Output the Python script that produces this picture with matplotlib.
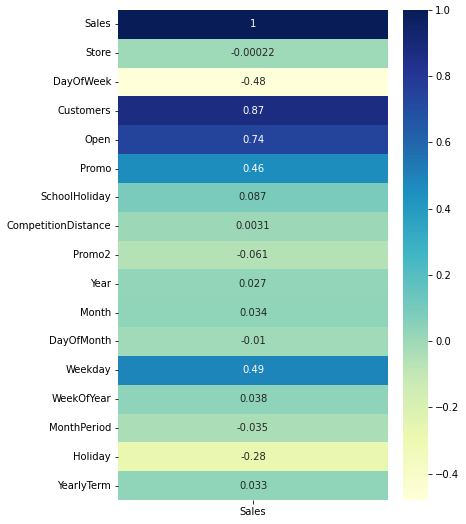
import matplotlib
matplotlib.use("Agg")
import matplotlib.pyplot as plt
import seaborn as sns
import pandas as pd
import numpy as np

features = ["Sales","Store","DayOfWeek","Customers","Open","Promo","SchoolHoliday",
            "CompetitionDistance","Promo2","Year","Month","DayOfMonth","Weekday",
            "WeekOfYear","MonthPeriod","Holiday","YearlyTerm"]
sales_corr = [1, -0.00022, -0.48, 0.87, 0.74, 0.46, 0.087, 0.0031, -0.061, 0.027,
              0.034, -0.01, 0.49, 0.038, -0.035, -0.28, 0.033]

df = pd.DataFrame({"Sales": sales_corr}, index=features)

fig = plt.figure(figsize=(466/72, 524/72), dpi=72)
ax = fig.add_axes([118/466, 1-500/524, 270/466, 490/524])
cax = fig.add_axes([403/466, 1-500/524, 25/466, 490/524])
labels = np.array([[f"{v:.2g}"] for v in sales_corr])
sns.heatmap(df, annot=labels, fmt="", cmap="YlGnBu", ax=ax, cbar_ax=cax)
ax.tick_params(axis="y", rotation=0)
fig.savefig("out.png", dpi=72)
